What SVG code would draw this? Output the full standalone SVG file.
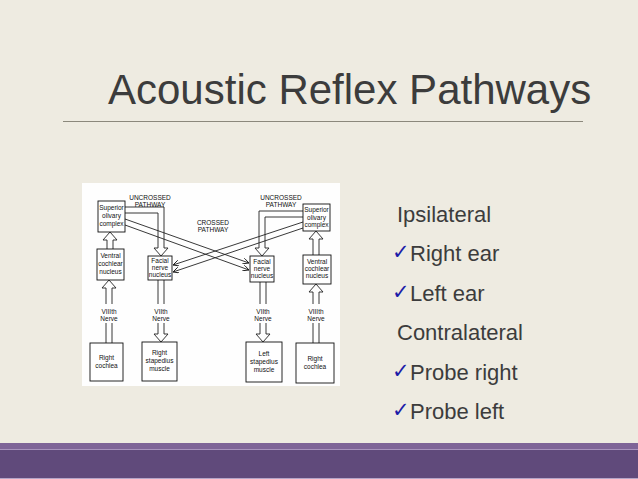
<svg xmlns="http://www.w3.org/2000/svg" width="638" height="479" viewBox="0 0 638 479">
<defs>
<marker id="ah" markerWidth="6" markerHeight="6" refX="6" refY="3" orient="auto" markerUnits="userSpaceOnUse">
<path d="M0,0 L6,3 L0,6" fill="none" stroke="#222" stroke-width="0.9"/>
</marker>
<style>
.t{font-family:"Liberation Sans",Arial,sans-serif;fill:#3c3c3c}
.d{font-family:"Liberation Sans",Arial,sans-serif;font-size:6.5px;fill:#111;text-anchor:middle}
.b{fill:#fff;stroke:#111;stroke-width:0.9}
.c{fill:none;stroke:#222;stroke-width:0.9}
.ck{font-family:"DejaVu Sans",sans-serif;fill:#1c1ca8;font-size:21px}
</style>
</defs>
<rect width="638" height="479" fill="#eeebe1"/>
<text class="t" x="108" y="104" font-size="42">Acoustic Reflex Pathways</text>
<line x1="63" y1="121.5" x2="583" y2="121.5" stroke="#8b887c" stroke-width="1"/>
<rect x="0" y="443" width="638" height="6" fill="#7e6497"/>
<rect x="0" y="449" width="638" height="1" fill="#a893bd"/>
<rect x="0" y="450" width="638" height="28" fill="#604a7b"/>
<rect x="0" y="478" width="638" height="1" fill="#b5a5c8"/>
<rect x="82" y="183" width="258" height="203" fill="#fefefe"/>

<g id="connectors">
<path class="c" d="M107,249 V240 H103 L110,232 L117,240 H113 V249"/>
<path class="c" d="M106,304 V288 H102 L109,280 L116,288 H112 V304 M106,323 V343 M112,323 V343"/>
<path class="c" d="M158,280 V304 M164,280 V304 M158,323 V334 H154 L161,342 L168,334 H164 V323"/>
<path class="c" d="M260,282 V304 M266,282 V304 M260,323 V334 H256 L263,342 L270,334 H266 V323"/>
<path class="c" d="M313,343 V323 M319,343 V323 M313,304 V292 H309 L316,284 L323,292 H319 V304"/>
<path class="c" d="M313,255 V239 H309 L316,231 L323,239 H319 V255"/>
<path class="c" d="M125,207 H164 V248 H168 L161,256 L154,248 H158 V213 H125"/>
<path class="c" d="M303,211 H259 V248 H255 L262,256 L269,248 H265 V217 H303"/>
<path class="c" d="M125,219 L249,263" marker-end="url(#ah)"/>
<path class="c" d="M125,225 L249,270" marker-end="url(#ah)"/>
<path class="c" d="M303,222 L173,265" marker-end="url(#ah)"/>
<path class="c" d="M303,228 L173,272" marker-end="url(#ah)"/>
</g>

<g id="labels">
<text class="d" x="150" y="200">UNCROSSED</text>
<text class="d" x="150" y="207">PATHWAY</text>
<text class="d" x="281" y="200">UNCROSSED</text>
<text class="d" x="281" y="207">PATHWAY</text>
<text class="d" x="213" y="225">CROSSED</text>
<text class="d" x="213" y="232">PATHWAY</text>
<text class="d" x="109" y="314">VIIIth</text>
<text class="d" x="109" y="321">Nerve</text>
<text class="d" x="161" y="314">VIIth</text>
<text class="d" x="161" y="321">Nerve</text>
<text class="d" x="263" y="314">VIIth</text>
<text class="d" x="263" y="321">Nerve</text>
<text class="d" x="316" y="314">VIIIth</text>
<text class="d" x="316" y="321">Nerve</text>
</g>

<g id="soc-left"><rect class="b" x="98" y="201" width="27" height="31"/>
<text class="d" x="111.5" y="210">Superior</text><text class="d" x="111.5" y="218">olivary</text><text class="d" x="111.5" y="226">complex</text></g>
<g id="vcn-left"><rect class="b" x="97" y="249" width="27" height="31"/>
<text class="d" x="110.5" y="258">Ventral</text><text class="d" x="110.5" y="266">cochlear</text><text class="d" x="110.5" y="274">nucleus</text></g>
<g id="fnn-left"><rect class="b" x="148" y="256" width="24" height="24"/>
<text class="d" x="160" y="263">Facial</text><text class="d" x="160" y="270">nerve</text><text class="d" x="160" y="277">nucleus</text></g>
<g id="fnn-right"><rect class="b" x="250" y="256" width="24" height="26"/>
<text class="d" x="262" y="264">Facial</text><text class="d" x="262" y="271">nerve</text><text class="d" x="262" y="278">nucleus</text></g>
<g id="soc-right"><rect class="b" x="303" y="204" width="27" height="27"/>
<text class="d" x="316.5" y="212">Superior</text><text class="d" x="316.5" y="219.5">olivary</text><text class="d" x="316.5" y="227">complex</text></g>
<g id="vcn-right"><rect class="b" x="303" y="255" width="28" height="29"/>
<text class="d" x="317" y="264">Ventral</text><text class="d" x="317" y="271">cochlear</text><text class="d" x="317" y="278">nucleus</text></g>
<g id="cochlea-left"><rect class="b" x="90" y="343" width="33" height="38"/>
<text class="d" x="106.5" y="360">Right</text><text class="d" x="106.5" y="368">cochlea</text></g>
<g id="stapedius-right"><rect class="b" x="142" y="342" width="35" height="39"/>
<text class="d" x="159.5" y="355">Right</text><text class="d" x="159.5" y="363">stapedius</text><text class="d" x="159.5" y="371">muscle</text></g>
<g id="stapedius-left"><rect class="b" x="246" y="342" width="36" height="40"/>
<text class="d" x="264" y="356">Left</text><text class="d" x="264" y="364">stapedius</text><text class="d" x="264" y="372">muscle</text></g>
<g id="cochlea-right"><rect class="b" x="296" y="343" width="38" height="40"/>
<text class="d" x="315" y="361">Right</text><text class="d" x="315" y="369">cochlea</text></g>

<g id="list" font-size="22">
<text class="t" x="397" y="222">Ipsilateral</text>
<text class="ck" x="392" y="259">✓</text><text class="t" x="410" y="261">Right ear</text>
<text class="ck" x="392" y="299">✓</text><text class="t" x="410" y="301">Left ear</text>
<text class="t" x="397" y="340">Contralateral</text>
<text class="ck" x="392" y="378">✓</text><text class="t" x="410" y="380">Probe right</text>
<text class="ck" x="392" y="417">✓</text><text class="t" x="410" y="419">Probe left</text>
</g>
</svg>
